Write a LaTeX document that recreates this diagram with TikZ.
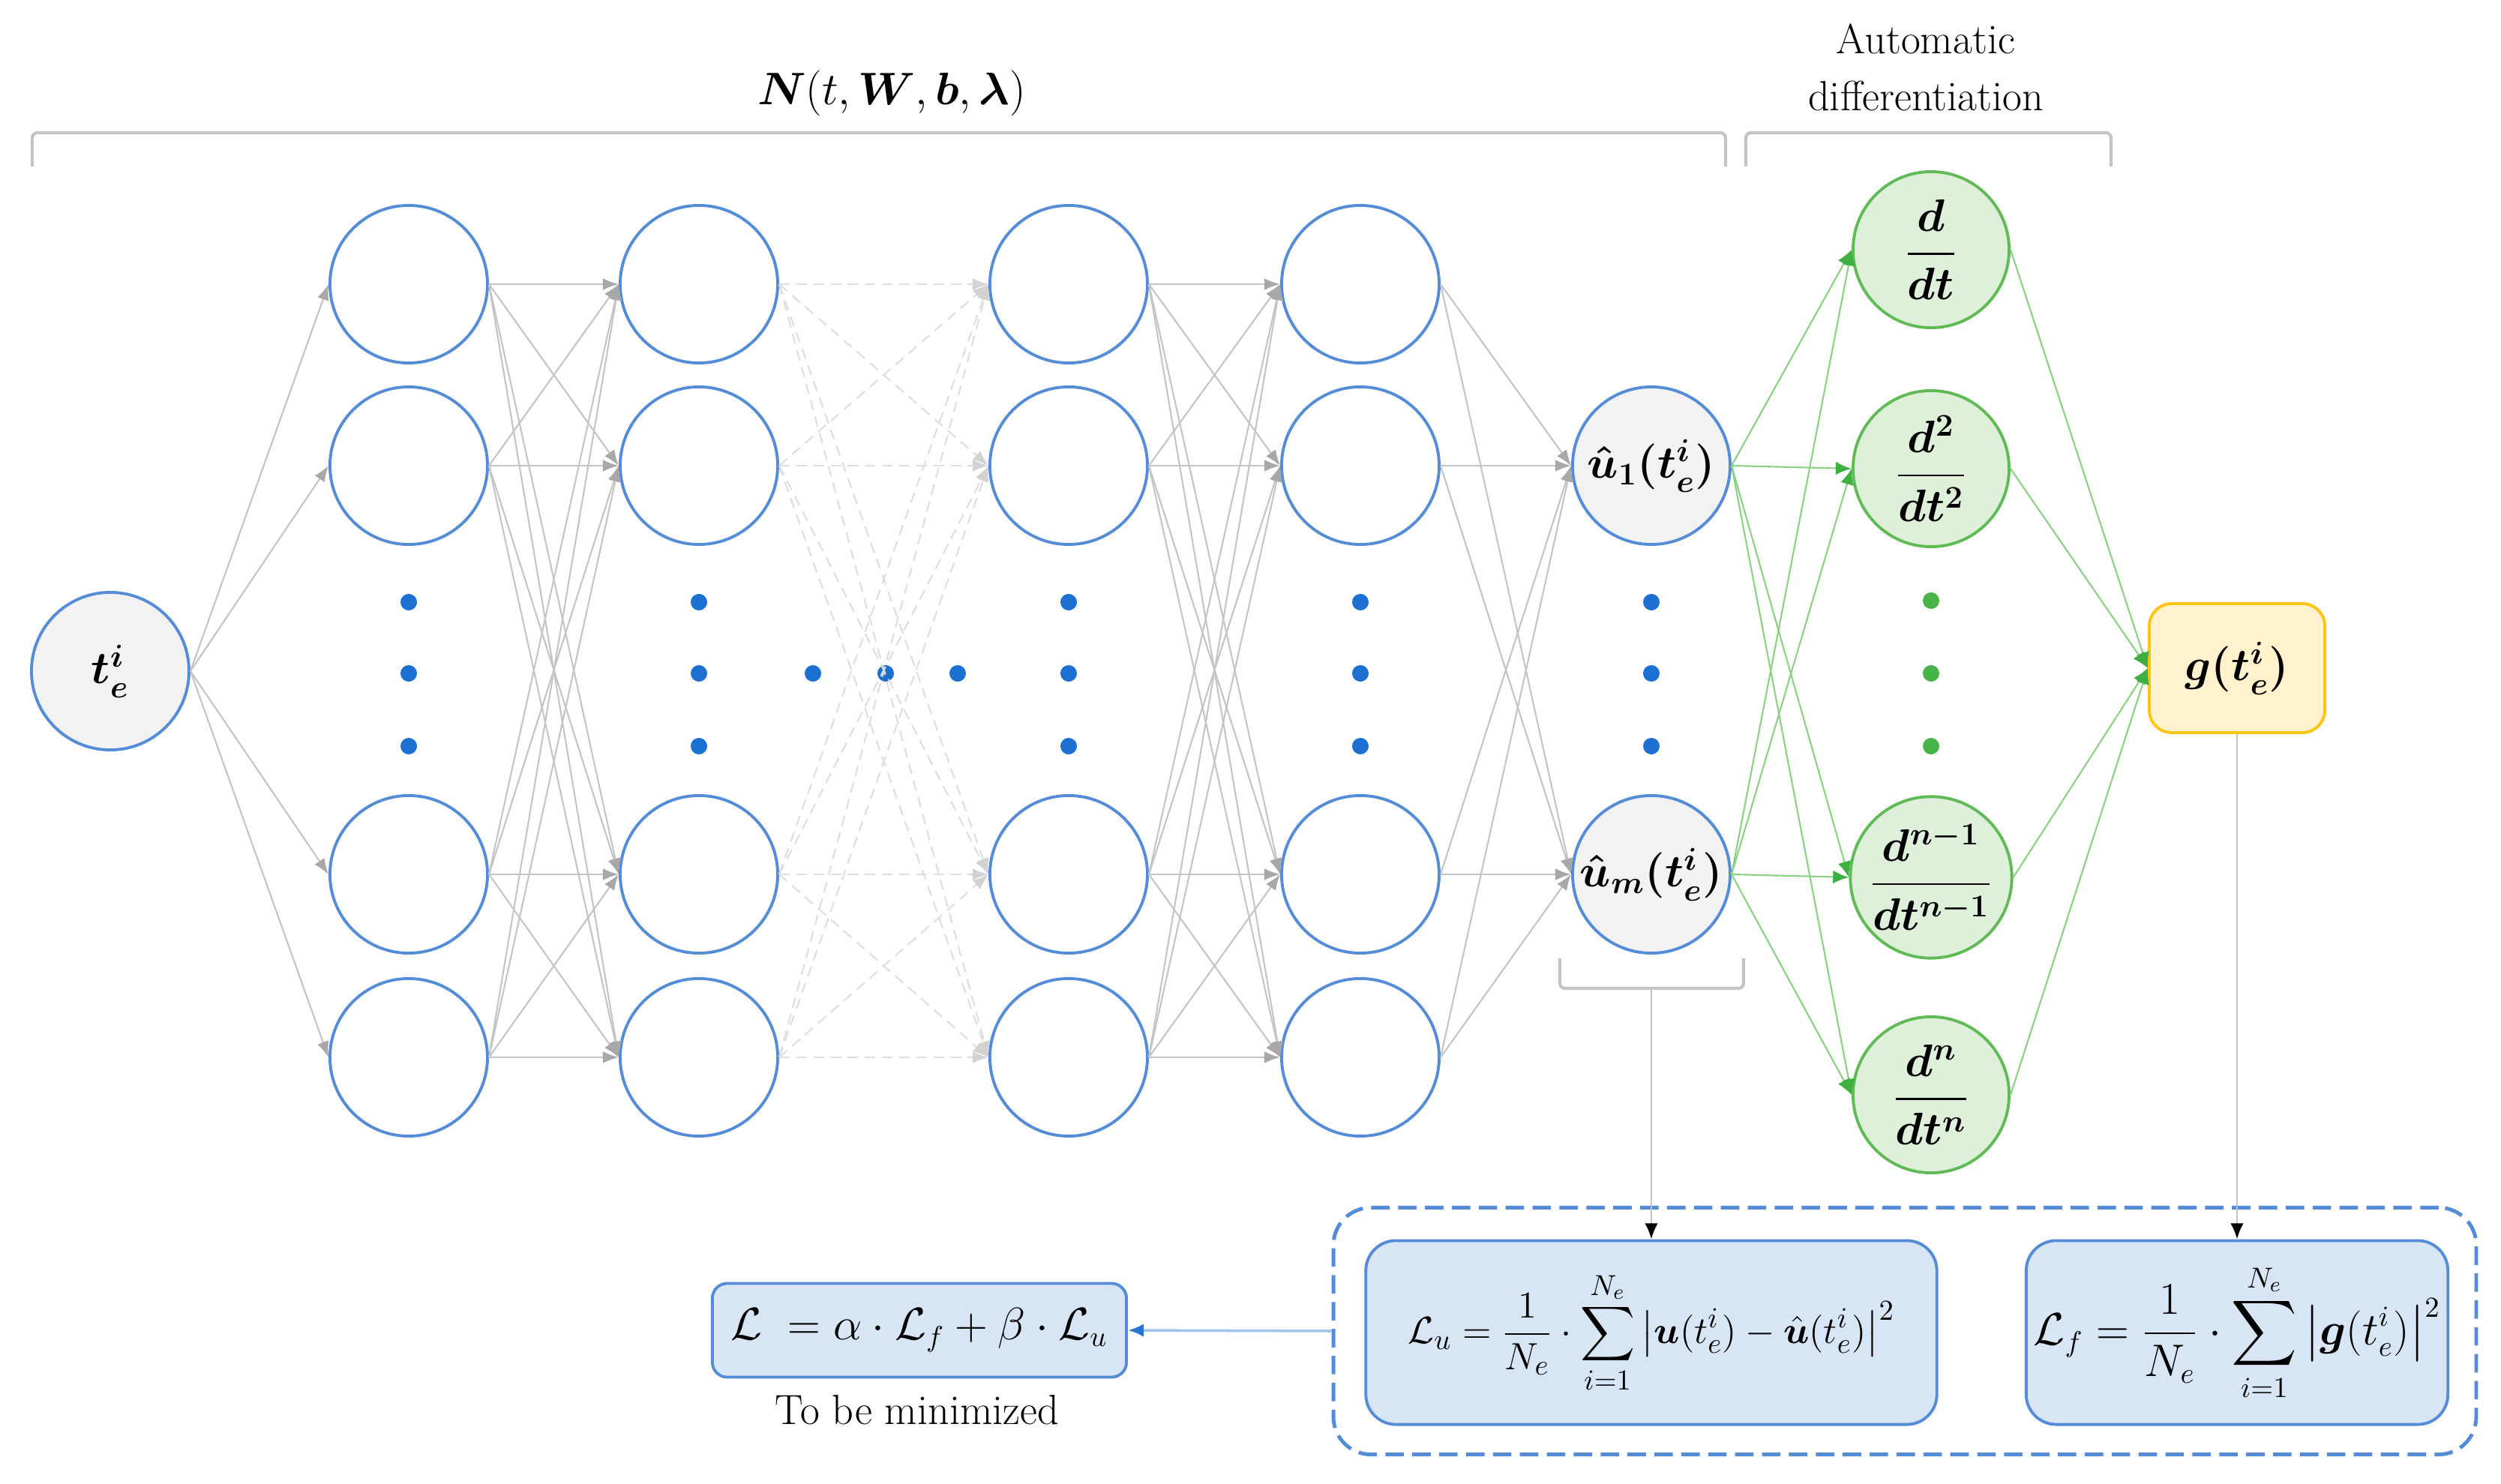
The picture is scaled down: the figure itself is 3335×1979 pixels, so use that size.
\documentclass[tikz,border=0pt]{standalone}
\usepackage{amsmath,bm}
\usetikzlibrary{arrows.meta,calc}
\definecolor{nodeblue}{RGB}{84,140,216}
\definecolor{dotblue}{RGB}{28,112,210}
\definecolor{inpgray}{RGB}{242,242,242}
\definecolor{dgreen}{RGB}{96,186,86}
\definecolor{lgreen}{RGB}{222,240,218}
\definecolor{gline}{RGB}{140,208,132}
\definecolor{garrow}{RGB}{62,176,66}
\definecolor{gdot}{RGB}{72,180,72}
\definecolor{yfill}{RGB}{255,242,204}
\definecolor{ydraw}{RGB}{255,196,20}
\definecolor{bfill}{RGB}{216,229,245}
\definecolor{lgray}{RGB}{196,196,196}
\definecolor{agray}{RGB}{168,168,168}
\definecolor{vlgray}{RGB}{222,222,222}
\definecolor{vlgrayb}{RGB}{210,210,210}
\definecolor{lblue}{RGB}{160,196,236}
\definecolor{ablue}{RGB}{40,115,205}
\begin{document}
\begin{tikzpicture}[x=0.01cm,y=-0.01cm,
  every node/.style={font=\fontsize{16}{19}\selectfont},
  neuron/.style={circle, draw=nodeblue, line width=1.1pt, minimum size=2.1cm, inner sep=0pt},
  inpnode/.style={neuron, fill=inpgray, font=\fontsize{16.5}{19}\selectfont\boldmath},
  deriv/.style={circle, draw=dgreen, fill=lgreen, line width=1.1pt, minimum size=2.08cm, inner sep=0pt, font=\fontsize{16.5}{19}\selectfont\boldmath},
  conn/.style={draw=lgray, line width=0.6pt, -{Latex[length=6pt,width=4.5pt,color=agray]}},
  dconn/.style={draw=vlgray, line width=0.6pt, dash pattern=on 4pt off 2.5pt, -{Latex[length=6pt,width=4.5pt,color=vlgrayb]}},
  gconn/.style={draw=gline, line width=0.6pt, -{Latex[length=6pt,width=5pt,color=garrow]}},
  brk/.style={draw=lgray, line width=1.2pt, rounded corners=2pt},
  lossbox/.style={rounded corners=0.4cm, draw=nodeblue, fill=bfill, line width=1.1pt, inner sep=0pt},
  downarr/.style={draw=lgray, line width=0.8pt, -{Latex[length=6pt,width=5pt,color=black]}},
  bluearr/.style={draw=lblue, line width=1pt, -{Latex[length=6pt,width=5pt,color=ablue]}}
]
\useasboundingbox (0,0) rectangle (3335,1979);

% titles and brackets
\node (title) at (1189,124) {$\bm{N}(t,\bm{W},\bm{b},\bm{\lambda})$};
\node[align=center, font=\fontsize{16}{21.5}\selectfont] (ad) at (2568,90) {Automatic\\differentiation};
\draw[brk] (43,222) -- (43,177) -- (2301,177) -- (2301,222);
\draw[brk] (2328,222) -- (2328,177) -- (2815,177) -- (2815,222);

% input
\node[inpnode] (t) at (147,895) {$t_e^i$};

% hidden layers
\foreach \l/\x in {1/545,2/932,3/1425,4/1814}{
  \foreach \r/\y in {1/379,2/621,3/1166,4/1410}{
    \node[neuron] (n\l\r) at (\x,\y) {};
  }
  \foreach \y in {803,898,995}{
    \fill[dotblue] (\x,\y) circle[radius=0.11cm];
  }
}
\foreach \x in {1084,1181,1277}{ \fill[dotblue] (\x,898) circle[radius=0.11cm]; }

% outputs
\node[inpnode] (o1) at (2202,621) {$\hat u_1(t_e^i)$};
\node[inpnode] (o2) at (2202,1166) {$\hat u_m(t_e^i)$};
\foreach \y in {803,898,995}{ \fill[dotblue] (2202,\y) circle[radius=0.11cm]; }

% derivatives
\node[deriv] (d1) at (2575,333) {$\dfrac{d}{dt}$};
\node[deriv] (d2) at (2575,625) {$\dfrac{d^2}{dt^2}$};
\node[deriv] (d3) at (2575,1170) {$\dfrac{d^{n-1}}{dt^{n-1}}$};
\node[deriv] (d4) at (2575,1460) {$\dfrac{d^n}{dt^n}$};
\foreach \y in {801,898,995}{ \fill[gdot] (2575,\y) circle[radius=0.11cm]; }

% g node
\node[rounded corners=0.3cm, draw=ydraw, fill=yfill, line width=1.1pt, minimum width=2.34cm, minimum height=1.72cm, font=\fontsize{16.5}{19}\selectfont\boldmath] (g) at (2983,891) {$g(t_e^i)$};

% connections
\foreach \r in {1,...,4}{ \draw[conn] (t.east) -- (n1\r.west); }
\foreach \i in {1,...,4}{ \foreach \j in {1,...,4}{
  \draw[conn] (n1\i.east) -- (n2\j.west);
  \draw[dconn] (n2\i.east) -- (n3\j.west);
  \draw[conn] (n3\i.east) -- (n4\j.west);
}}
\foreach \i in {1,...,4}{
  \draw[conn] (n4\i.east) -- (o1.west);
  \draw[conn] (n4\i.east) -- (o2.west);
}
\foreach \j in {1,...,4}{
  \draw[gconn] (o1.east) -- (d\j.west);
  \draw[gconn] (o2.east) -- (d\j.west);
  \draw[gconn] (d\j.east) -- (g.west);
}

% bracket under outputs
\draw[brk] (2080,1278) -- (2080,1318) -- (2325,1318) -- (2325,1278);
\coordinate (bk) at (2202,1318);

% bottom losses
\node[draw=nodeblue, line width=1.4pt, dash pattern=on 7pt off 3.2pt, rounded corners=0.5cm, minimum width=15.23cm, minimum height=3.29cm, inner sep=0pt] (cont) at (2540,1775) {};
\node[lossbox, minimum width=7.61cm, minimum height=2.45cm, font=\fontsize{15.2}{18}\selectfont] (Lu) at (2202,1777) {$\mathcal{L}_u = \dfrac{1}{N_e}\cdot\displaystyle\sum_{i=1}^{N_e}\left|\bm{u}(t_e^i)-\hat{\bm{u}}(t_e^i)\right|^2$};
\node[lossbox, minimum width=5.62cm, minimum height=2.45cm] (Lf) at (2983,1777) {$\mathcal{L}_f = \dfrac{1}{N_e}\cdot\displaystyle\sum_{i=1}^{N_e}\left|\bm{g}(t_e^i)\right|^2$};
\node[lossbox, rounded corners=0.2cm, minimum width=5.52cm, minimum height=1.25cm] (L) at (1226,1774) {$\mathcal{L}\ = \alpha\cdot\mathcal{L}_f+\beta\cdot\mathcal{L}_u$};
\node (tbm) at (1223,1880) {To be minimized};

\draw[downarr] (bk) -- (Lu.north);
\draw[downarr] (g.south) -- (Lf.north);
\draw[bluearr] (cont.west) -- (L.east);
\end{tikzpicture}
\end{document}
